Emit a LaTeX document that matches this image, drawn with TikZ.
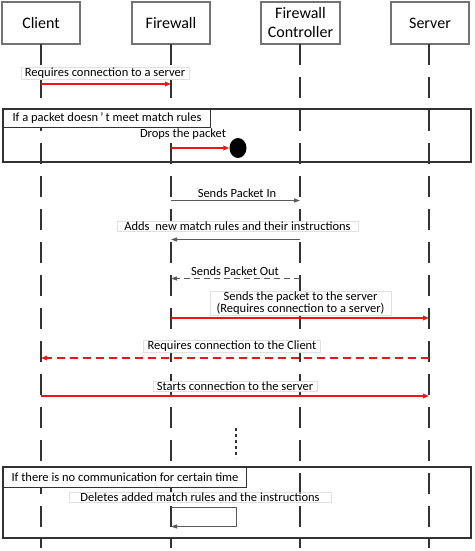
\documentclass[tikz,border=0pt]{standalone}
\usepackage{fontspec}
\setmainfont{Carlito}
\usetikzlibrary{arrows.meta,shapes.geometric}
\definecolor{msgred}{RGB}{240,20,20}
\definecolor{msggray}{RGB}{90,90,90}
\definecolor{lifegray}{RGB}{50,50,50}
\begin{document}
\begin{tikzpicture}[x=1pt,y=-1pt,
 head/.style={draw=black!55, line width=1.4pt, fill=white, minimum width=78pt, minimum height=42pt, align=center, font=\fontsize{16}{19}\selectfont, inner sep=1pt},
 life/.style={draw=lifegray, line width=1.8pt, dash pattern=on 21pt off 12pt},
 lbl/.style={fill=white, draw=black!12, line width=0.5pt, inner xsep=4pt, inner ysep=0.5pt, font=\fontsize{12.5}{14}\selectfont},
 frm/.style={draw=lifegray, line width=1.3pt},
 flbl/.style={draw=lifegray, line width=1pt, fill=white, inner sep=0pt, anchor=north west, font=\fontsize{12.5}{14}\selectfont},
 redmsg/.style={draw=msgred, line width=1.6pt, -{Triangle[length=6pt,width=4.5pt]}},
 graymsg/.style={draw=msggray, line width=1pt, -{Triangle[length=6pt,width=4pt]}},
]
\useasboundingbox (0,0) rectangle (474,551);
% heads
\node[head] (client) at (41,23) {Client};
\node[head] (fw) at (171,23) {Firewall};
\node[head, minimum width=79pt] (ctrl) at (300.5,23) {Firewall\\Controller};
\node[head] (srv) at (430,23) {Server};
% lifelines
\coordinate (clientend) at (41,548);
\coordinate (fwend) at (171,548);
\coordinate (ctrlend) at (300,548);
\coordinate (srvend) at (429,548);
\draw[life] (41,44) -- (clientend);
\draw[life] (171,44) -- (fwend);
\draw[life] (300,44) -- (ctrlend);
\draw[life] (429,44) -- (srvend);
% frames
\draw[frm] (3,109) rectangle (471,162);
\draw[frm] (3,467) rectangle (471,538);
\node[flbl, minimum width=207pt, minimum height=18pt] (f1) at (3,109) {If a packet doesn\,’\,t meet match rules};
\node[flbl, minimum width=243pt, minimum height=20pt] (f2) at (3,467) {If there is no communication for certain time};
% message 1
\coordinate (m1a) at (41,84); \coordinate (m1b) at (171,84);
\draw[redmsg] (m1a) -- (m1b);
\node[lbl] (l1) at (105,73) {Requires connection to a server};
% drop
\node[lbl, draw=none] (l2) at (183,134) {Drops the packet};
\node[ellipse, fill=black, minimum width=17pt, minimum height=20pt, inner sep=0pt] (drop) at (238,148) {};
\coordinate (m2a) at (171,148);
\draw[redmsg] (m2a) -- (drop.west);
% packet in
\coordinate (m3a) at (171,200.5); \coordinate (m3b) at (300,200.5);
\draw[graymsg] (m3a) -- (m3b);
\node[lbl, draw=none] (l3) at (237,193) {Sends Packet In};
% adds rules
\coordinate (m4a) at (300,239.5); \coordinate (m4b) at (171,239.5);
\draw[graymsg] (m4a) -- (m4b);
\node[lbl, minimum width=241pt] (l4) at (237.5,226) {Adds\ \ new match rules and their instructions};
% packet out
\coordinate (m5a) at (300,278.5); \coordinate (m5b) at (171,278.5);
\draw[graymsg, dash pattern=on 6pt off 4pt] (m5a) -- (m5b);
\node[lbl, draw=none] (l5) at (235,271) {Sends Packet Out};
% send to server
\node[lbl, align=center, font=\fontsize{12.5}{12}\selectfont, minimum width=181pt] (l6) at (300.5,303) {Sends the packet to the server\\(Requires connection to a server)};
\coordinate (m6a) at (171,318); \coordinate (m6b) at (429,318);
\draw[redmsg] (m6a) -- (m6b);
% requires to client
\coordinate (m7a) at (429,358); \coordinate (m7b) at (41,358);
\draw[redmsg, dash pattern=on 8pt off 5pt] (m7a) -- (m7b);
\node[lbl] (l7) at (232,346) {Requires connection to the Client};
% starts connection
\coordinate (m8a) at (41,396); \coordinate (m8b) at (429,396);
\draw[redmsg] (m8a) -- (m8b);
\node[lbl] (l8) at (235,386) {Starts connection to the server};
% dots
\coordinate (d1) at (236,428); \coordinate (d2) at (236,458);
\draw[draw=lifegray, line width=1.8pt, dash pattern=on 3pt off 3pt] (d1) -- (d2);
% deletes
\node[lbl, minimum width=262pt] (l9) at (200,497.5) {Deletes added match rules and the instructions};
\coordinate (s1) at (171,507.5); \coordinate (s2) at (236.5,507.5); \coordinate (s3) at (236.5,526.5); \coordinate (s4) at (171,526.5);
\draw[graymsg] (s1) -- (s2) -- (s3) -- (s4);
\end{tikzpicture}
\end{document}
